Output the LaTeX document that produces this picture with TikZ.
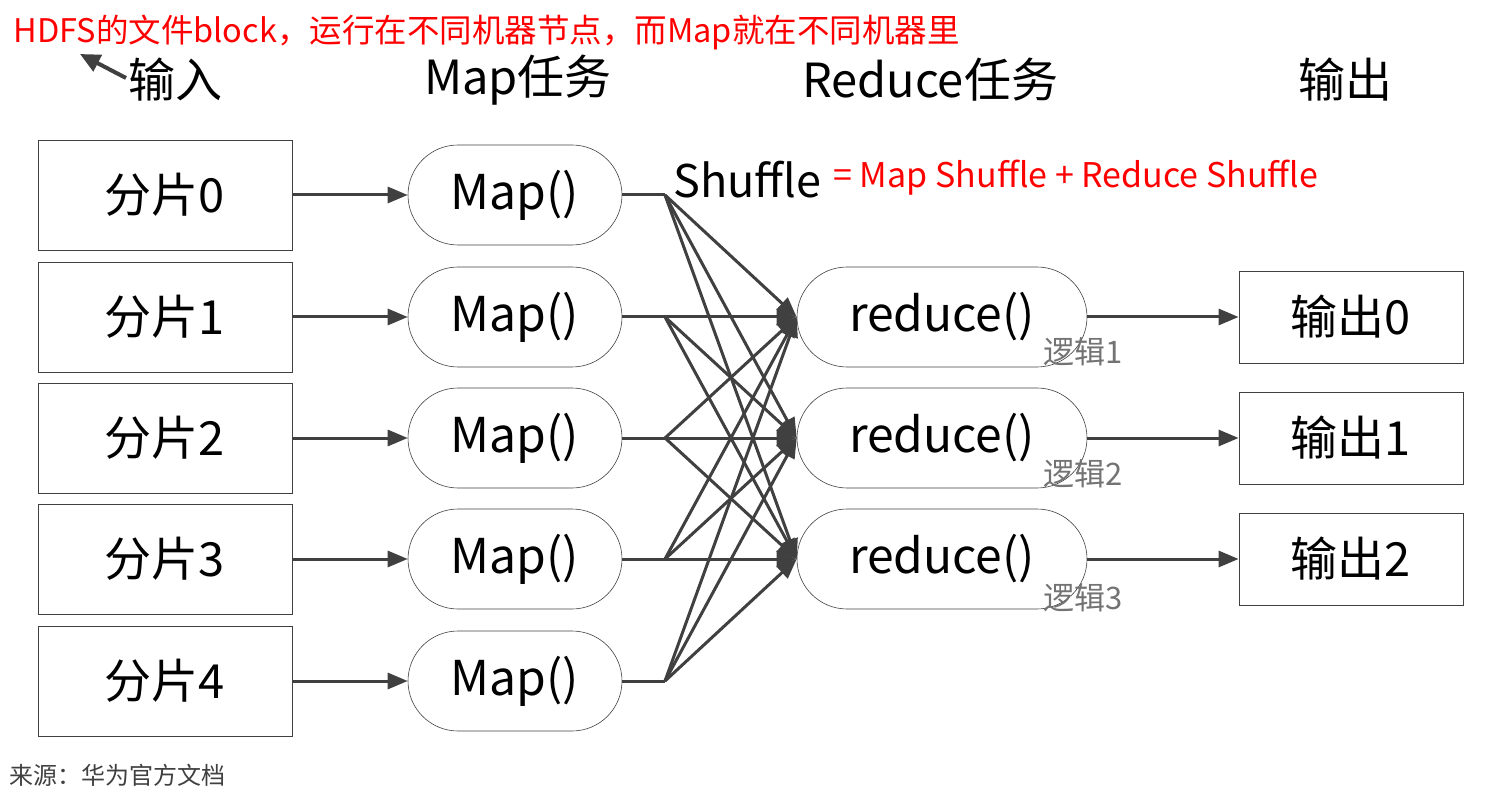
\documentclass[tikz,border=0pt]{standalone}
\usepackage{fontspec}
\setmainfont{Noto Sans CJK SC}
\usetikzlibrary{arrows.meta}
\definecolor{ln}{HTML}{404040}
\begin{document}
\begin{tikzpicture}[x=1pt,y=-1pt,
  box/.style={draw=ln,line width=0.8pt,minimum width=254pt,minimum height=110pt,inner sep=0pt,font=\fontsize{47}{47}\selectfont},
  obox/.style={draw=ln,line width=0.8pt,minimum width=224pt,minimum height=92pt,inner sep=0pt,font=\fontsize{47}{47}\selectfont},
  mapn/.style={draw=ln,line width=0.6pt,rounded corners=50pt,minimum width=214pt,minimum height=100pt,inner sep=0pt,font=\fontsize{48}{48}\selectfont},
  redn/.style={draw=ln,line width=0.6pt,rounded corners=50pt,minimum width=290pt,minimum height=100pt,inner sep=0pt,font=\fontsize{48}{48}\selectfont},
  hd/.style={font=\fontsize{47}{47}\selectfont},
  lg/.style={font=\fontsize{31}{31}\selectfont,text=gray!90!black},
  ar/.style={draw=ln,line width=3pt,-{Triangle[length=20pt,width=16pt]}},
  sh/.style={draw=ln,line width=3pt},
  sha/.style={draw=ln,line width=3pt,-{Triangle[length=20pt,width=16pt]}}]
\useasboundingbox (0,0) rectangle (1491,799);
\node[anchor=west,text=red,font=\fontsize{32.5}{32.5}\selectfont] (t) at (10,32) {HDFS的文件block，运行在不同机器节点，而Map就在不同机器里};
\coordinate (a1) at (126,78); \coordinate (a2) at (80,54);
\draw[draw=ln,line width=4pt,-{Triangle[length=20pt,width=18pt]}] (a1) -- (a2);
\node[hd] (h1) at (175,80) {输入};
\node[hd] (h2) at (518,80) {Map任务};
\node[hd] (h3) at (930,80) {Reduce任务};
\node[hd] (h4) at (1345,80) {输出};
\node[font=\fontsize{45}{45}\selectfont,anchor=west] (shf) at (670,180) {Shuffle};
\node[anchor=west,text=red,font=\fontsize{34}{34}\selectfont] (eq) at (830,178) {= Map Shuffle + Reduce Shuffle};
\foreach \i/\y in {0/195,1/317,2/438,3/559,4/681}{
  \node[box] (s\i) at (165,\y) {分片\i};
  \node[mapn] (m\i) at (515,\y) {Map()};
  \coordinate (j\i) at (665,\y);
  \draw[ar] (s\i) -- (m\i);
  \draw[sh] (m\i.east) -- (j\i);
}
\foreach \i/\y in {0/317,1/438,2/559}{
  \node[redn] (r\i) at (942,\y) {reduce()};
  \node[obox] (o\i) at (1351,\y) {输出\i};
  \draw[ar] (r\i) -- (o\i);
}
\node[lg] (l1) at (1083,352) {逻辑1};
\node[lg] (l2) at (1083,474) {逻辑2};
\node[lg] (l3) at (1083,598) {逻辑3};
\foreach \i in {0,...,4}{\foreach \k in {0,1,2}{\draw[sha] (j\i) -- (r\k.west);}}
\node[anchor=west,text=ln,font=\fontsize{24}{24}\selectfont] (src) at (6,775) {来源：华为官方文档};
\end{tikzpicture}
\end{document}
